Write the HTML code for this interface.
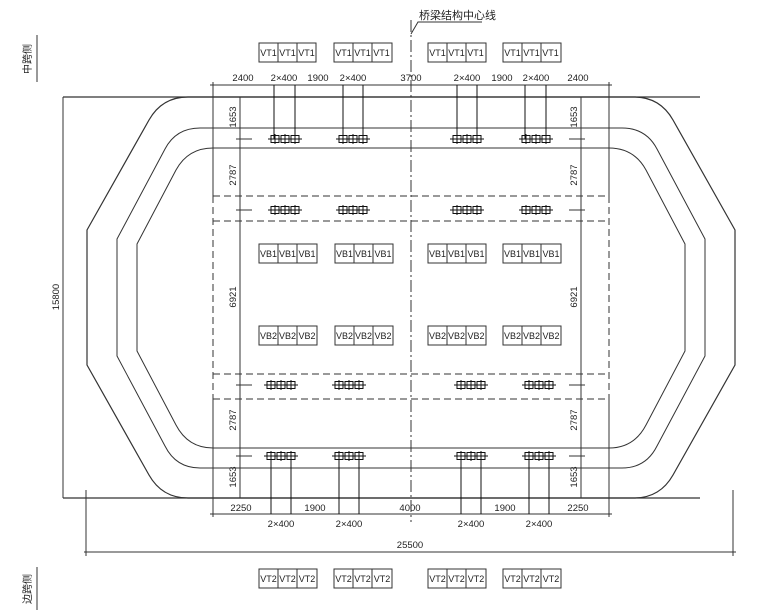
<!DOCTYPE html>
<html><head><meta charset="utf-8"><style>
html,body{margin:0;padding:0;background:#fff;width:760px;height:610px;overflow:hidden}
svg{display:block}
text{font-family:"Liberation Sans","Noto Sans CJK SC",sans-serif;font-size:10px;fill:#222}
.bx text{font-size:9px}
.dm text{font-size:9.5px}
</style></head><body>
<svg width="760" height="610" viewBox="0 0 760 610" xmlns="http://www.w3.org/2000/svg">
<g fill="none" stroke="#333" stroke-width="1">
<path d="M188,97 L634,97 Q660,97 673,120 L735,230 L735,365 L673,475 Q660,498 634,498 L188,498 Q162,498 149,475 L87,365 L87,230 L149,120 Q162,97 188,97 Z" stroke-width="1.2"/>
<path d="M200,128 L622,128 Q646,128 657,149 L705,239 L705,356 L657,446 Q646,468 622,468 L200,468 Q176,468 165,446 L117,356 L117,239 L165,149 Q176,128 200,128 Z"/>
<path d="M213,148 L609,148 Q634,148 646,170 L685,244 L685,351 L646,425 Q634,448 609,448 L213,448 Q188,448 176,425 L137,351 L137,244 L176,170 Q188,148 213,148 Z"/>
<line x1="63" y1="97" x2="700" y2="97" stroke-width="1.2"/>
<line x1="63" y1="498" x2="700" y2="498" stroke-width="1.2"/>
<line x1="63" y1="97" x2="63" y2="498"/>
<line x1="213" y1="82" x2="213" y2="196"/>
<line x1="213" y1="399" x2="213" y2="517"/>
<line x1="609" y1="82" x2="609" y2="196"/>
<line x1="609" y1="399" x2="609" y2="517"/>
<g stroke-dasharray="7,4">
<line x1="213" y1="196" x2="213" y2="399"/>
<line x1="609" y1="196" x2="609" y2="399"/>
<line x1="213" y1="196" x2="609" y2="196"/>
<line x1="213" y1="221" x2="609" y2="221"/>
<line x1="213" y1="374" x2="609" y2="374"/>
<line x1="213" y1="399" x2="609" y2="399"/>
</g>
<line x1="240" y1="97" x2="240" y2="498"/>
<line x1="581" y1="97" x2="581" y2="498"/>
<line x1="210" y1="85" x2="612" y2="85"/>
<line x1="210" y1="514" x2="612" y2="514"/>
<line x1="84" y1="552" x2="736" y2="552"/>
<line x1="86" y1="490" x2="86" y2="556"/>
<line x1="733" y1="490" x2="733" y2="556"/>
<g stroke="#111">
<line x1="274" y1="85" x2="274" y2="139"/><line x1="295" y1="85" x2="295" y2="139"/>
<line x1="343" y1="85" x2="343" y2="139"/><line x1="363" y1="85" x2="363" y2="139"/>
<line x1="457" y1="85" x2="457" y2="139"/><line x1="477" y1="85" x2="477" y2="139"/>
<line x1="525" y1="85" x2="525" y2="139"/><line x1="546" y1="85" x2="546" y2="139"/>
<line x1="271" y1="456" x2="271" y2="514"/><line x1="291" y1="456" x2="291" y2="514"/>
<line x1="339" y1="456" x2="339" y2="514"/><line x1="359" y1="456" x2="359" y2="514"/>
<line x1="461" y1="456" x2="461" y2="514"/><line x1="481" y1="456" x2="481" y2="514"/>
<line x1="529" y1="456" x2="529" y2="514"/><line x1="549" y1="456" x2="549" y2="514"/>
</g>
<g>
<line x1="236" y1="139" x2="252" y2="139"/><line x1="236" y1="210" x2="252" y2="210"/>
<line x1="236" y1="385" x2="252" y2="385"/><line x1="236" y1="456" x2="252" y2="456"/>
<line x1="569" y1="139" x2="585" y2="139"/><line x1="569" y1="210" x2="585" y2="210"/>
<line x1="569" y1="385" x2="585" y2="385"/><line x1="569" y1="456" x2="585" y2="456"/>
</g>
<line x1="411" y1="20" x2="411" y2="522" stroke-dasharray="12,3,2,3"/>
<polyline points="411,34 418,22 482,22"/>
<line x1="37" y1="35" x2="37" y2="82"/>
<line x1="37" y1="567" x2="37" y2="610"/>
</g>

<defs>
<g id="b" fill="none" stroke="#111" stroke-width="1">
<rect x="-14" y="-3.5" width="8" height="7"/><rect x="-4" y="-3.5" width="8" height="7"/><rect x="6" y="-3.5" width="8" height="7"/>
<line x1="-17" y1="0" x2="17" y2="0"/>
<line x1="-10" y1="-5" x2="-10" y2="5"/><line x1="0" y1="-5" x2="0" y2="5"/><line x1="10" y1="-5" x2="10" y2="5"/>
</g>
</defs>
<use href="#b" x="285" y="139"/><use href="#b" x="353" y="139"/><use href="#b" x="467" y="139"/><use href="#b" x="536" y="139"/>
<use href="#b" x="285" y="210"/><use href="#b" x="353" y="210"/><use href="#b" x="467" y="210"/><use href="#b" x="536" y="210"/>
<use href="#b" x="281" y="385"/><use href="#b" x="349" y="385"/><use href="#b" x="471" y="385"/><use href="#b" x="539" y="385"/>
<use href="#b" x="281" y="456"/><use href="#b" x="349" y="456"/><use href="#b" x="471" y="456"/><use href="#b" x="539" y="456"/>

<g fill="none" stroke="#333">
<rect x="259" y="43" width="57" height="19"/><line x1="278" y1="43" x2="278" y2="62"/><line x1="297" y1="43" x2="297" y2="62"/>
<rect x="334" y="43" width="58" height="19"/><line x1="353" y1="43" x2="353" y2="62"/><line x1="372" y1="43" x2="372" y2="62"/>
<rect x="428" y="43" width="58" height="19"/><line x1="447" y1="43" x2="447" y2="62"/><line x1="466" y1="43" x2="466" y2="62"/>
<rect x="503" y="43" width="58" height="19"/><line x1="522" y1="43" x2="522" y2="62"/><line x1="541" y1="43" x2="541" y2="62"/>

<rect x="259" y="244" width="58" height="19"/><line x1="278" y1="244" x2="278" y2="263"/><line x1="297" y1="244" x2="297" y2="263"/>
<rect x="335" y="244" width="58" height="19"/><line x1="354" y1="244" x2="354" y2="263"/><line x1="373" y1="244" x2="373" y2="263"/>
<rect x="428" y="244" width="58" height="19"/><line x1="447" y1="244" x2="447" y2="263"/><line x1="466" y1="244" x2="466" y2="263"/>
<rect x="503" y="244" width="58" height="19"/><line x1="522" y1="244" x2="522" y2="263"/><line x1="541" y1="244" x2="541" y2="263"/>

<rect x="259" y="326" width="58" height="19"/><line x1="278" y1="326" x2="278" y2="345"/><line x1="297" y1="326" x2="297" y2="345"/>
<rect x="335" y="326" width="58" height="19"/><line x1="354" y1="326" x2="354" y2="345"/><line x1="373" y1="326" x2="373" y2="345"/>
<rect x="428" y="326" width="58" height="19"/><line x1="447" y1="326" x2="447" y2="345"/><line x1="466" y1="326" x2="466" y2="345"/>
<rect x="503" y="326" width="58" height="19"/><line x1="522" y1="326" x2="522" y2="345"/><line x1="541" y1="326" x2="541" y2="345"/>

<rect x="259" y="569" width="58" height="19"/><line x1="278" y1="569" x2="278" y2="588"/><line x1="297" y1="569" x2="297" y2="588"/>
<rect x="334" y="569" width="58" height="19"/><line x1="353" y1="569" x2="353" y2="588"/><line x1="372" y1="569" x2="372" y2="588"/>
<rect x="428" y="569" width="58" height="19"/><line x1="447" y1="569" x2="447" y2="588"/><line x1="466" y1="569" x2="466" y2="588"/>
<rect x="503" y="569" width="58" height="19"/><line x1="522" y1="569" x2="522" y2="588"/><line x1="541" y1="569" x2="541" y2="588"/>
</g>

<g text-anchor="middle" class="bx">
<text x="268.5" y="56">VT1</text><text x="287.5" y="56">VT1</text><text x="306.5" y="56">VT1</text>
<text x="343.5" y="56">VT1</text><text x="362.5" y="56">VT1</text><text x="381.5" y="56">VT1</text>
<text x="437.5" y="56">VT1</text><text x="456.5" y="56">VT1</text><text x="475.5" y="56">VT1</text>
<text x="512.5" y="56">VT1</text><text x="531.5" y="56">VT1</text><text x="550.5" y="56">VT1</text>

<text x="268.5" y="257">VB1</text><text x="287.5" y="257">VB1</text><text x="307" y="257">VB1</text>
<text x="344.5" y="257">VB1</text><text x="363.5" y="257">VB1</text><text x="383" y="257">VB1</text>
<text x="437.5" y="257">VB1</text><text x="456.5" y="257">VB1</text><text x="476" y="257">VB1</text>
<text x="512.5" y="257">VB1</text><text x="531.5" y="257">VB1</text><text x="551" y="257">VB1</text>

<text x="268.5" y="339">VB2</text><text x="287.5" y="339">VB2</text><text x="307" y="339">VB2</text>
<text x="344.5" y="339">VB2</text><text x="363.5" y="339">VB2</text><text x="383" y="339">VB2</text>
<text x="437.5" y="339">VB2</text><text x="456.5" y="339">VB2</text><text x="476" y="339">VB2</text>
<text x="512.5" y="339">VB2</text><text x="531.5" y="339">VB2</text><text x="551" y="339">VB2</text>

<text x="268.5" y="582">VT2</text><text x="287.5" y="582">VT2</text><text x="307" y="582">VT2</text>
<text x="343.5" y="582">VT2</text><text x="362.5" y="582">VT2</text><text x="382" y="582">VT2</text>
<text x="437.5" y="582">VT2</text><text x="456.5" y="582">VT2</text><text x="476" y="582">VT2</text>
<text x="512.5" y="582">VT2</text><text x="531.5" y="582">VT2</text><text x="551" y="582">VT2</text>
</g>
<g text-anchor="middle" class="dm">
<text x="243" y="81">2400</text><text x="284" y="81">2×400</text><text x="318" y="81">1900</text>
<text x="353" y="81">2×400</text><text x="411" y="81">3700</text><text x="467" y="81">2×400</text>
<text x="502" y="81">1900</text><text x="536" y="81">2×400</text><text x="578" y="81">2400</text>
<text x="241" y="511">2250</text><text x="315" y="511">1900</text><text x="410" y="511">4000</text>
<text x="505" y="511">1900</text><text x="578" y="511">2250</text>
<text x="281" y="527">2×400</text><text x="349" y="527">2×400</text><text x="471" y="527">2×400</text><text x="539" y="527">2×400</text>
<text x="410" y="548">25500</text>
<text transform="translate(236,117) rotate(-90)">1653</text>
<text transform="translate(236,175) rotate(-90)">2787</text>
<text transform="translate(236,297) rotate(-90)">6921</text>
<text transform="translate(236,420) rotate(-90)">2787</text>
<text transform="translate(236,477) rotate(-90)">1653</text>
<text transform="translate(577,117) rotate(-90)">1653</text>
<text transform="translate(577,175) rotate(-90)">2787</text>
<text transform="translate(577,297) rotate(-90)">6921</text>
<text transform="translate(577,420) rotate(-90)">2787</text>
<text transform="translate(577,477) rotate(-90)">1653</text>
<text transform="translate(59,297) rotate(-90)">15800</text>
</g>
<text x="419" y="19" style="font-size:11px">桥梁结构中心线</text>
<g style="font-size:12px" text-anchor="middle">
<text transform="translate(31,59) rotate(-90)">中跨侧</text>
<text transform="translate(31,589) rotate(-90)">边跨侧</text>
</g>
</svg>
</body></html>
